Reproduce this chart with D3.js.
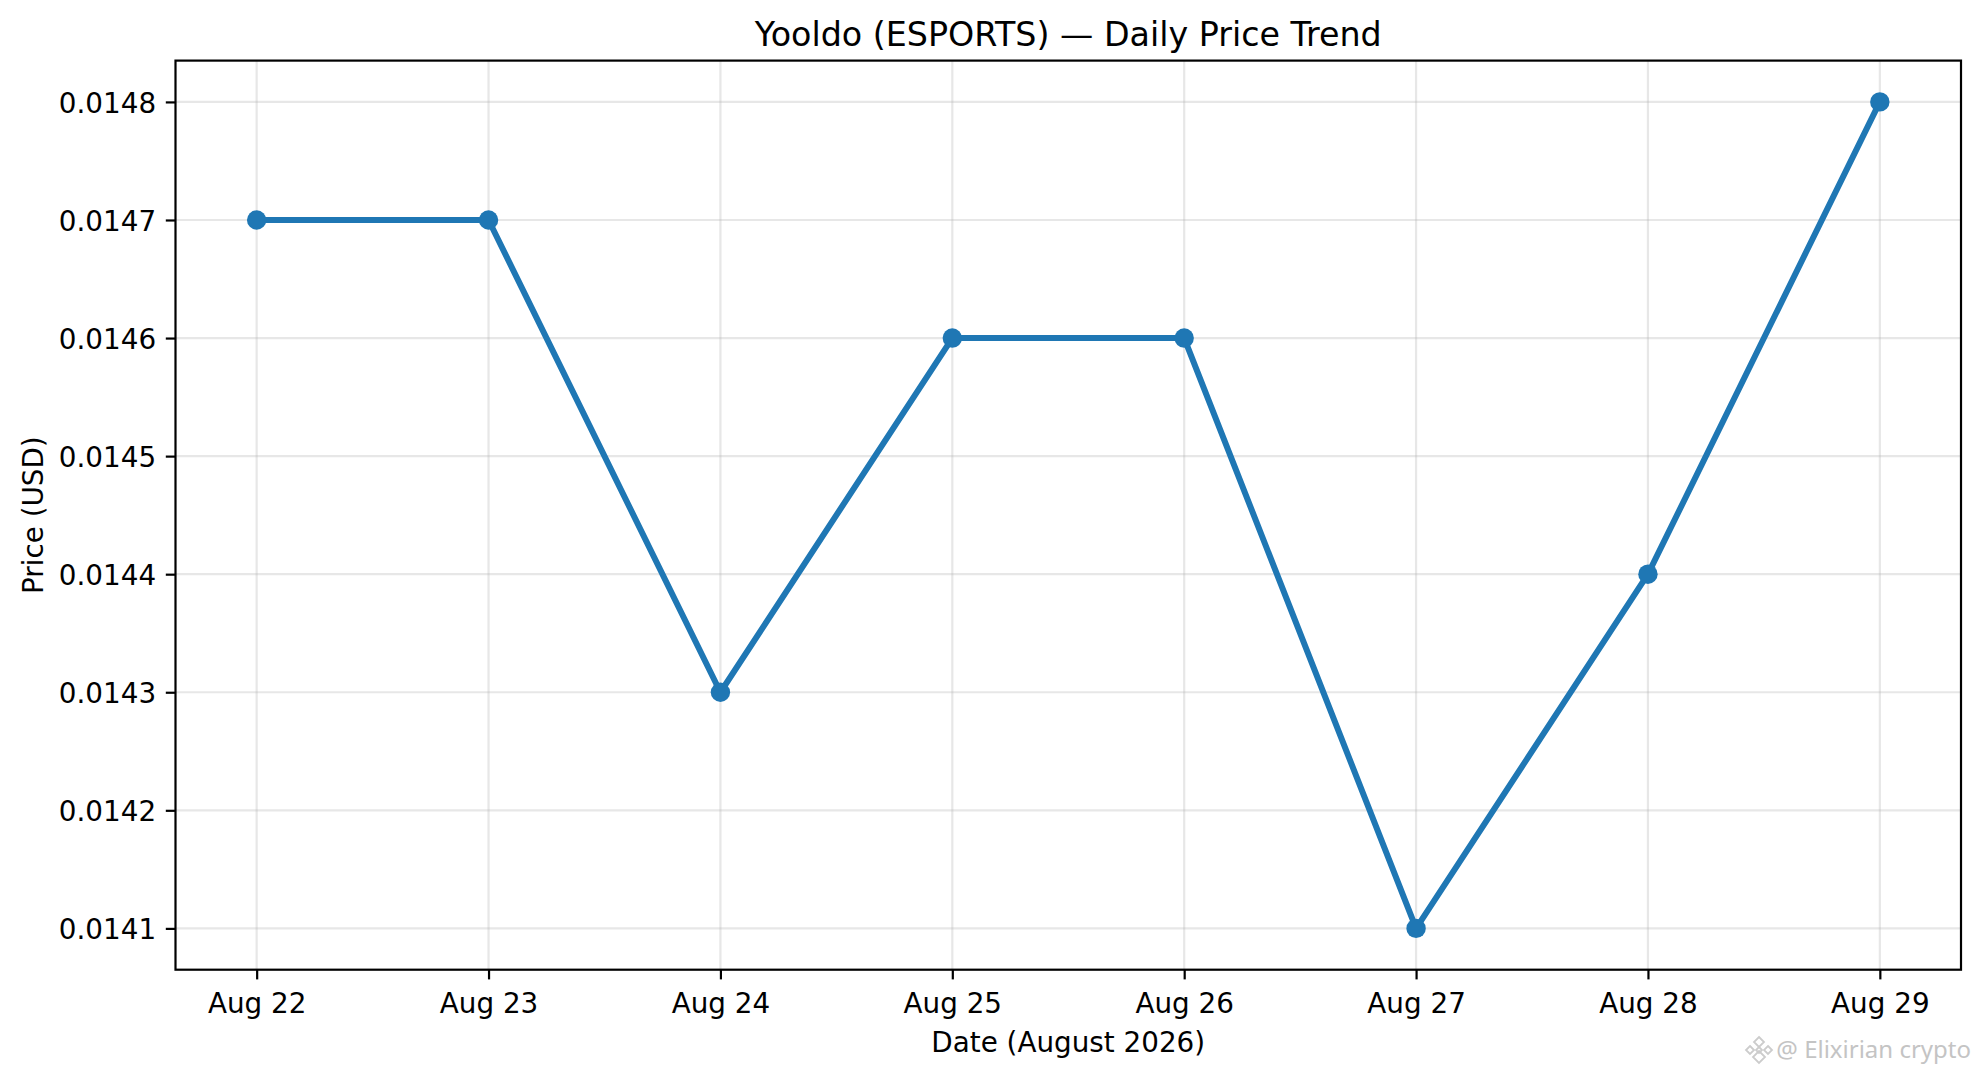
<!DOCTYPE html>
<html>
<head>
<meta charset="utf-8">
<script src="https://cdn.jsdelivr.net/npm/d3@7"></script>
<style>
  html, body { margin: 0; padding: 0; background: #fff; }
  svg { display: block; font-family: "DejaVu Sans", sans-serif; }
</style>
</head>
<body>
<svg id="chart" width="1980" height="1077"></svg>
<script>
// data
let dates = ["2026-08-22", "2026-08-23", "2026-08-24", "2026-08-25", "2026-08-26", "2026-08-27", "2026-08-28", "2026-08-29"]
let prices = [0.0147, 0.0147, 0.0143, 0.0146, 0.0146, 0.0141, 0.0144, 0.0148]
let yTicks = [0.0141, 0.0142, 0.0143, 0.0144, 0.0145, 0.0146, 0.0147, 0.0148]
let title = "Yooldo (ESPORTS) \u2014 Daily Price Trend"
let xLabel = "Date (August 2026)"
let yLabel = "Price (USD)"
let watermark = "@ Elixirian crypto"

let parse = d3.timeParse("%Y-%m-%d")
let points = dates.map(function(d, i) { return {date: parse(d), price: prices[i]} })

//======================= SVG + MARGINS =========================
let svg = d3.select("#chart"),
    margin = {top: 60.6, right: 19, bottom: 107.3, left: 175.5},
    width = +svg.attr("width") - margin.left - margin.right,
    height = +svg.attr("height") - margin.top - margin.bottom,
    g = svg.append("g").attr("transform", "translate(" + margin.left + "," + margin.top + ")")

let blue = "#1f77b4",
    tickFont = 27.8

//======================= SCALES (5% padding like matplotlib) ===
let xExt = d3.extent(points, d => d.date),
    xPad = (xExt[1] - xExt[0]) * 0.05
let x = d3.scaleTime()
  .domain([new Date(+xExt[0] - xPad), new Date(+xExt[1] + xPad)])
  .range([0, width])

let yExt = d3.extent(prices),
    yPad = (yExt[1] - yExt[0]) * 0.05
let y = d3.scaleLinear()
  .domain([yExt[0] - yPad, yExt[1] + yPad])
  .range([height, 0])

let xTicks = points.map(d => d.date)

//======================= GRID ==================================
g.append("g").attr("class", "grid")
  .selectAll("line.gx").data(xTicks).enter().append("line")
  .attr("x1", d => x(d)).attr("x2", d => x(d))
  .attr("y1", 0).attr("y2", height)
  .attr("stroke", "#b0b0b0").attr("stroke-opacity", 0.3).attr("stroke-width", 2.2)

g.append("g").attr("class", "grid")
  .selectAll("line.gy").data(yTicks).enter().append("line")
  .attr("x1", 0).attr("x2", width)
  .attr("y1", d => y(d)).attr("y2", d => y(d))
  .attr("stroke", "#b0b0b0").attr("stroke-opacity", 0.3).attr("stroke-width", 2.2)

//======================= AXES ==================================
let xAxis = g.append("g")
  .attr("transform", "translate(0," + height + ")")
  .call(d3.axisBottom(x).tickValues(xTicks).tickFormat(d3.timeFormat("%b %-d")).tickSize(9.7).tickPadding(9.7).tickSizeOuter(0))

let yAxis = g.append("g")
  .call(d3.axisLeft(y).tickValues(yTicks).tickFormat(d3.format(".4f")).tickSize(9.7).tickPadding(9.7).tickSizeOuter(0))

;[xAxis, yAxis].forEach(function(a) {
  a.select(".domain").remove()
  a.selectAll(".tick line").attr("stroke", "#000").attr("stroke-width", 2.2)
  a.selectAll(".tick text")
    .attr("fill", "#000")
    .style("font-family", "DejaVu Sans")
    .style("font-size", tickFont + "px")
})
xAxis.selectAll(".tick text").attr("dy", "0.86em")
yAxis.selectAll(".tick text").attr("dy", "0.38em")

//======================= LINE + MARKERS ========================
let line = d3.line()
  .x(d => x(d.date))
  .y(d => y(d.price))

g.append("path")
  .datum(points)
  .attr("fill", "none")
  .attr("stroke", blue)
  .attr("stroke-width", 6)
  .attr("stroke-linejoin", "round")
  .attr("stroke-linecap", "butt")
  .attr("d", line)

g.selectAll(".dot")
  .data(points)
  .enter().append("circle")
  .attr("class", "dot")
  .attr("cx", d => x(d.date))
  .attr("cy", d => y(d.price))
  .attr("r", 9.7)
  .attr("fill", blue)

//======================= FRAME =================================
g.append("rect")
  .attr("x", 0).attr("y", 0)
  .attr("width", width).attr("height", height)
  .attr("fill", "none")
  .attr("stroke", "#000")
  .attr("stroke-width", 2.2)

//======================= TEXTS =================================
svg.append("text")
  .attr("x", margin.left + width / 2)
  .attr("y", 46)
  .attr("text-anchor", "middle")
  .style("font-size", "33.3px")
  .attr("fill", "#000")
  .text(title)

svg.append("text")
  .attr("x", margin.left + width / 2)
  .attr("y", 1052)
  .attr("text-anchor", "middle")
  .style("font-size", tickFont + "px")
  .attr("fill", "#000")
  .text(xLabel)

svg.append("text")
  .attr("transform", "translate(43," + (margin.top + height / 2) + ") rotate(-90)")
  .attr("text-anchor", "middle")
  .style("font-size", tickFont + "px")
  .attr("fill", "#000")
  .text(yLabel)

// watermark, bottom right
let wm = svg.append("g").attr("transform", "translate(1759,1050)")
let diamonds = [[0, -8, 5], [-9, 0, 4], [9, 0, 4], [0, 7, 6], [0, 0, 3]]
wm.selectAll("path")
  .data(diamonds)
  .enter().append("path")
  .attr("d", d => "M" + d[0] + "," + (d[1] - d[2]) + "L" + (d[0] + d[2]) + "," + d[1] + "L" + d[0] + "," + (d[1] + d[2]) + "L" + (d[0] - d[2]) + "," + d[1] + "Z")
  .attr("fill", "none")
  .attr("stroke", "#cccccc")
  .attr("stroke-width", 1.8)

svg.append("text")
  .attr("x", 1971)
  .attr("y", 1058)
  .attr("text-anchor", "end")
  .style("font-family", "Noto Sans, sans-serif")
  .style("font-size", "24px")
  .attr("fill", "#c4c4c4")
  .text(watermark)
</script>
</body>
</html>
